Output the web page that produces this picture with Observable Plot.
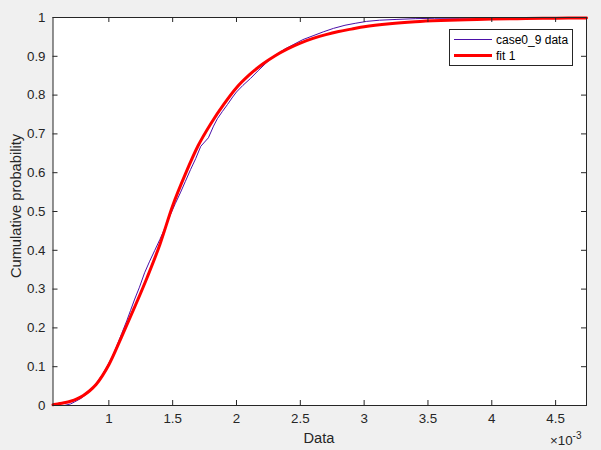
<!DOCTYPE html>
<html>
<head>
<meta charset="utf-8">
<script src="https://cdn.jsdelivr.net/npm/d3@7"></script>
<script src="https://cdn.jsdelivr.net/npm/@observablehq/plot@0.6"></script>
<style>
  html, body { margin: 0; padding: 0; background: #f0f0f0; }
  #wrap { position: relative; width: 601px; height: 450px; background: #f0f0f0; overflow: hidden;
          font-family: "Liberation Sans", Arial, Helvetica, sans-serif; color: #262626; }
  .lbl { position: absolute; white-space: nowrap; font-size: 14.67px; line-height: 1; }
  #legend { position: absolute; left: 449px; top: 29px; width: 122px; height: 35px; background: white;
            border: 1px solid #262626; font-size: 12px; }
  .legline { position: absolute; left: 4px; width: 38px; }
  .legtxt { position: absolute; left: 46px; line-height: 1; color: #000; }
</style>
</head>
<body>
<div id="wrap"></div>
<script>
// x values are in units of 1e-3
const xExponent = -3;
const xTicks = [1, 1.5, 2, 2.5, 3, 3.5, 4, 4.5];
const yTicks = [0, 0.1, 0.2, 0.3, 0.4, 0.5, 0.6, 0.7, 0.8, 0.9, 1];
const xDomain = [0.5625, 4.742];

// Empirical CDF: "case0_9 data"
const dataX = [0.5625,0.65,0.70,0.73,0.78,0.82,0.86,0.90,0.95,0.99,1.03,1.07,1.10,1.14,1.17,1.20,1.24,1.28,1.32,1.36,1.40,1.44,1.48,1.52,1.56,1.60,1.64,1.68,1.72,1.75,1.78,1.82,1.85,1.89,1.93,1.97,2.00,2.05,2.11,2.17,2.23,2.30,2.38,2.45,2.52,2.60,2.68,2.76,2.85,2.93,3.02,3.12,3.25,3.40,3.55,3.75,4.00,4.40,4.742];
const dataY = [0,0,0.004,0.009,0.018,0.028,0.040,0.056,0.080,0.103,0.128,0.160,0.185,0.218,0.245,0.272,0.305,0.342,0.372,0.400,0.428,0.458,0.490,0.520,0.548,0.578,0.608,0.636,0.668,0.679,0.690,0.720,0.739,0.758,0.776,0.795,0.808,0.825,0.843,0.863,0.882,0.902,0.919,0.931,0.943,0.953,0.963,0.972,0.980,0.985,0.990,0.993,0.995,0.997,0.998,0.998,0.999,0.999,1.0];

// Fitted CDF: "fit 1"
const fitX = [0.5625,0.6,0.65,0.7,0.75,0.8,0.85,0.9,0.95,1.0,1.1,1.2,1.3,1.4,1.5,1.6,1.7,1.8,1.9,2.0,2.1,2.2,2.3,2.4,2.5,2.6,2.7,2.8,2.9,3.0,3.2,3.4,3.6,3.8,4.0,4.2,4.4,4.6,4.742];
const fitY = [0.002,0.004,0.007,0.011,0.017,0.026,0.038,0.054,0.077,0.105,0.177,0.252,0.330,0.415,0.515,0.597,0.670,0.727,0.776,0.819,0.852,0.879,0.901,0.919,0.934,0.946,0.956,0.964,0.970,0.976,0.984,0.989,0.992,0.994,0.996,0.997,0.998,0.9985,0.999];

const seriesNames = ["case0_9 data", "fit 1"];
const dataColor = "#4b0fa8";
const fitColor = "#ff0000";

const dataPts = dataX.map((x, i) => ({x, y: dataY[i]}));
const fitPts = fitX.map((x, i) => ({x, y: fitY[i]}));

const W = 601, H = 450, mL = 52.5, mR = 15, mT = 17, mB = 45;
const plotW = W - mL - mR, plotH = H - mT - mB, tick = 5;
const ink = "#262626";

const chart = Plot.plot({
  width: W, height: H,
  marginLeft: mL, marginRight: mR, marginTop: mT, marginBottom: mB,
  x: {domain: xDomain},
  y: {domain: [0, 1]},
  style: {background: "transparent", fontFamily: "'Liberation Sans', Arial, Helvetica, sans-serif", fontSize: "13.33px", color: ink},
  marks: [
    Plot.frame({fill: "white", stroke: null}),
    Plot.line(dataPts, {x: "x", y: "y", stroke: dataColor, strokeWidth: 1, curve: "linear"}),
    Plot.line(fitPts, {x: "x", y: "y", stroke: fitColor, strokeWidth: 3, curve: "monotone-x"}),
    Plot.ruleX(xTicks, {x: d => d, insetTop: plotH - tick, stroke: ink}),
    Plot.ruleX(xTicks, {x: d => d, insetBottom: plotH - tick, stroke: ink}),
    Plot.ruleY(yTicks, {y: d => d, insetRight: plotW - tick, stroke: ink}),
    Plot.ruleY(yTicks, {y: d => d, insetLeft: plotW - tick, stroke: ink}),
    Plot.frame({stroke: ink}),
    Plot.axisX(xTicks, {tickSize: 0, tickPadding: 8, label: null, tickFormat: d => String(d), fill: ink}),
    Plot.axisY(yTicks, {tickSize: 0, tickPadding: 7.5, label: null, tickFormat: d => String(d), fill: ink})
  ]
});

const wrap = document.getElementById("wrap");
wrap.appendChild(chart);

function addLabel(html, css) {
  const d = document.createElement("div");
  d.className = "lbl";
  d.innerHTML = html;
  Object.assign(d.style, css);
  wrap.appendChild(d);
  return d;
}
addLabel("Data", {left: "319px", top: "438px", transform: "translate(-50%,-50%)"});
addLabel("Cumulative probability", {left: "16px", top: "206px", transform: "translate(-50%,-50%) rotate(-90deg)"});
addLabel("&times;10<sup style='font-size:10px;position:relative;top:-1px'>" + xExponent + "</sup>",
         {left: "550px", top: "432px", fontSize: "13.33px"});

const leg = document.createElement("div");
leg.id = "legend";
leg.innerHTML =
  `<div class="legline" style="top:9px;height:1px;background:${dataColor}"></div>` +
  `<div class="legtxt" style="top:4px">${seriesNames[0]}</div>` +
  `<div class="legline" style="top:24px;height:3px;background:${fitColor}"></div>` +
  `<div class="legtxt" style="top:20px">${seriesNames[1]}</div>`;
wrap.appendChild(leg);
</script>
</body>
</html>
